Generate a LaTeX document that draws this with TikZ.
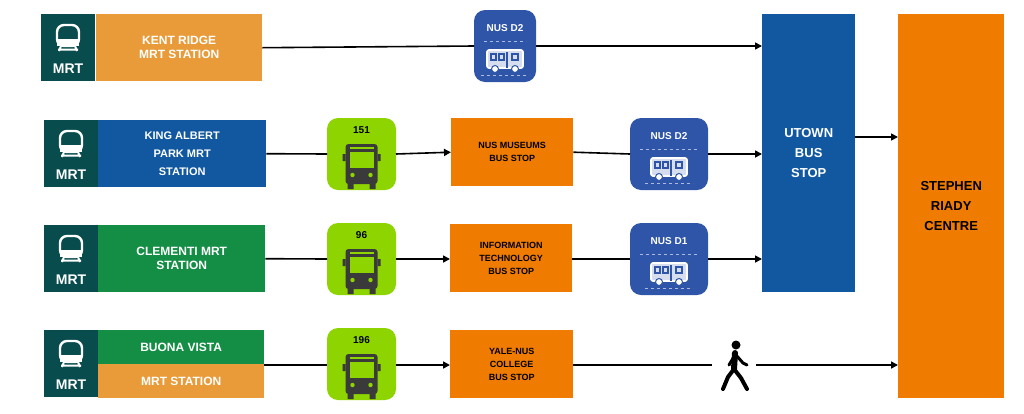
\documentclass[tikz,border=0pt]{standalone}
\usepackage{fontspec}
\setmainfont{Liberation Sans}
\usetikzlibrary{arrows.meta}
\definecolor{teal}{HTML}{084C4E}
\definecolor{lorange}{HTML}{E89B38}
\definecolor{mblue}{HTML}{1158A0}
\definecolor{mgreen}{HTML}{148E44}
\definecolor{lime}{HTML}{8ED400}
\definecolor{borange}{HTML}{EF7B00}
\definecolor{nusblue}{HTML}{2F55A8}
\definecolor{busgrey}{HTML}{3A3A3A}
\tikzset{
 lbl/.style={draw=none,inner sep=0,text=white,font=\bfseries\fontsize{12}{14}\selectfont,align=center},
 stop/.style={fill=borange,text=black,font=\bfseries\fontsize{9}{13}\selectfont,align=center},
 ln/.style={line width=1.6pt},
 ar/.style={line width=1.6pt,-{Triangle[length=7pt,width=7pt]}},
}
\newcommand{\mrticon}[2]{% x, ytop
 \fill[teal] (#1,#2) rectangle ++(54,67);
 \begin{scope}[shift={(#1+27,#2+20)}]
 \draw[white,line width=2.4pt,rounded corners=7pt] (-11,12)--(-11,-9)--(11,-9)--(11,12)--cycle;
 \fill[white] (-11,5) rectangle (11,12);
 \fill[white] (-6,8) circle (2.2) (6,8) circle (2.2);
 \draw[white,line width=2pt] (-7,12)--(-9,17) (7,12)--(9,17) (-10,15.5)--(10,15.5);
 \end{scope}
 \node[text=white,font=\bfseries\fontsize{14}{14}\selectfont] at (#1+27,#2+55) {MRT};
}
\newcommand{\busicon}[3]{% x, ytop, number
 \fill[lime,rounded corners=11pt] (#1,#2) rectangle ++(69,72);
 \node[font=\bfseries\fontsize{10}{10}\selectfont] at (#1+34.5,#2+12) {#3};
 \begin{scope}[shift={(#1+34.5,#2+46)}]
 \fill[busgrey,rounded corners=3pt] (-16,-20) rectangle (16,20);
 \fill[lime] (-12,-12) rectangle (12,4);
 \fill[lime] (-12,-17) rectangle (12,-15);
 \fill[lime] (-9,11) circle (2.2) (9,11) circle (2.2);
 \fill[busgrey] (-14,18) rectangle (-8,25) (8,18) rectangle (14,25);
 \fill[busgrey] (-19,-10) rectangle (-16,-3) (16,-10) rectangle (19,-3);
 \end{scope}
}
\newcommand{\nusicon}[4]{% x, ytop, w, label
 \fill[nusblue,rounded corners=11pt] (#1,#2) rectangle ++(#3,72);
 \node[text=white,font=\bfseries\fontsize{10}{10}\selectfont] at (#1+#3/2,#2+18) {#4};
 \draw[white!60!nusblue,dashed,line width=0.5pt] (#1+10,#2+31)--(#1+#3-10,#2+31);
 \begin{scope}[shift={(#1+#3/2,#2+50)}]
 \draw[white,fill=nusblue!20,line width=1.6pt,rounded corners=2pt] (-18,-10) rectangle (18,8);
 \draw[nusblue,line width=1.2pt] (-14,-6) rectangle (-9,0) (-6,-6) rectangle (-1,0) (7,-6) rectangle (13,0) (2,-8)--(2,8);
 \fill[white,draw=nusblue,line width=1pt] (-10,9) circle (3.5) (10,9) circle (3.5);
 \draw[white!60!nusblue,dashed,line width=0.5pt] (-24,15)--(24,15);
 \end{scope}
}
\begin{document}
\begin{tikzpicture}[x=1pt,y=-1pt]
\useasboundingbox (0,0) rectangle (1024,413);
% row1
\mrticon{41}{14}
\node[lbl,fill=lorange,minimum width=166,minimum height=67,anchor=north west] (kr) at (96,14) {KENT RIDGE\\MRT STATION};
\nusicon{474}{10}{62}{NUS D2}
\coordinate (d2a) at (474,46); \coordinate (d2b) at (536,46);
% utown, stephen
\node[lbl,fill=mblue,minimum width=93,minimum height=278,anchor=north west,font=\bfseries\fontsize{13}{20}\selectfont] (ut) at (762,14) {UTOWN\\BUS\\STOP};
\node[lbl,fill=borange,minimum width=106,minimum height=384,anchor=north west,text=black,font=\bfseries\fontsize{13}{20}\selectfont] (sr) at (898,14) {STEPHEN\\RIADY\\CENTRE};
\draw[ln] (kr.east) -- (d2a);
\draw[ar] (d2b) -- (ut.west |- d2b);
\draw[ar] (ut.east |- 0,137) -- (sr.west |- 0,137);
% row2
\mrticon{44}{120}
\node[lbl,fill=mblue,minimum width=168,minimum height=67,anchor=north west,font=\bfseries\fontsize{11}{18}\selectfont] (ka) at (98,120) {KING ALBERT\\PARK MRT\\STATION};
\busicon{327}{118}{151}
\node[stop,minimum width=122,minimum height=68,anchor=north west] (nm) at (451,118) {NUS MUSEUMS\\BUS STOP};
\nusicon{630}{118}{78}{NUS D2}
\draw[ln] (ka.east) -- (327,154);
\draw[ar] (396,154) -- (nm.west);
\draw[ln] (nm.east) -- (630,154);
\draw[ar] (708,154) -- (ut.west |- 0,154);
% row3
\mrticon{44}{225}
\node[lbl,fill=mgreen,minimum width=167,minimum height=67,anchor=north west] (cl) at (98,225) {CLEMENTI MRT\\STATION};
\busicon{327}{223}{96}
\node[stop,minimum width=122,minimum height=68,anchor=north west] (it) at (450,224) {INFORMATION\\TECHNOLOGY\\BUS STOP};
\nusicon{630}{223}{78}{NUS D1}
\draw[ln] (cl.east) -- (327,259);
\draw[ar] (396,259) -- (it.west |- 0,259);
\draw[ln] (it.east |- 0,259) -- (630,259);
\draw[ar] (708,259) -- (ut.west |- 0,259);
% row4
\mrticon{44}{330}
\node[lbl,fill=mgreen,minimum width=166,minimum height=34,anchor=north west] (bv1) at (98,330) {BUONA VISTA};
\node[lbl,fill=lorange,minimum width=166,minimum height=34,anchor=north west] (bv) at (98,364) {MRT STATION};
\busicon{327}{328}{196}
\node[stop,minimum width=123,minimum height=68,anchor=north west] (yn) at (450,330) {YALE-NUS\\COLLEGE\\BUS STOP};
\draw[ln] (bv.east |- 0,365) -- (327,365);
\draw[ar] (396,365) -- (yn.west |- 0,365);
\draw[ln] (yn.east |- 0,365) -- (712,365);
\draw[ar] (756,365) -- (sr.west |- 0,365);
% walker
\begin{scope}[shift={(735,345)}]
\fill (1,0) circle (4.5);
\draw[line width=6pt,line cap=round] (0,8)--(-1,24);
\draw[line width=4pt,line cap=round] (-1,24)--(-7,32)--(-12,44) (-1,24)--(6,33)--(12,44);
\draw[line width=3pt,line cap=round] (0,10)--(-6,20) (1,10)--(8,18)--(12,20);
\end{scope}
\end{tikzpicture}
\end{document}
